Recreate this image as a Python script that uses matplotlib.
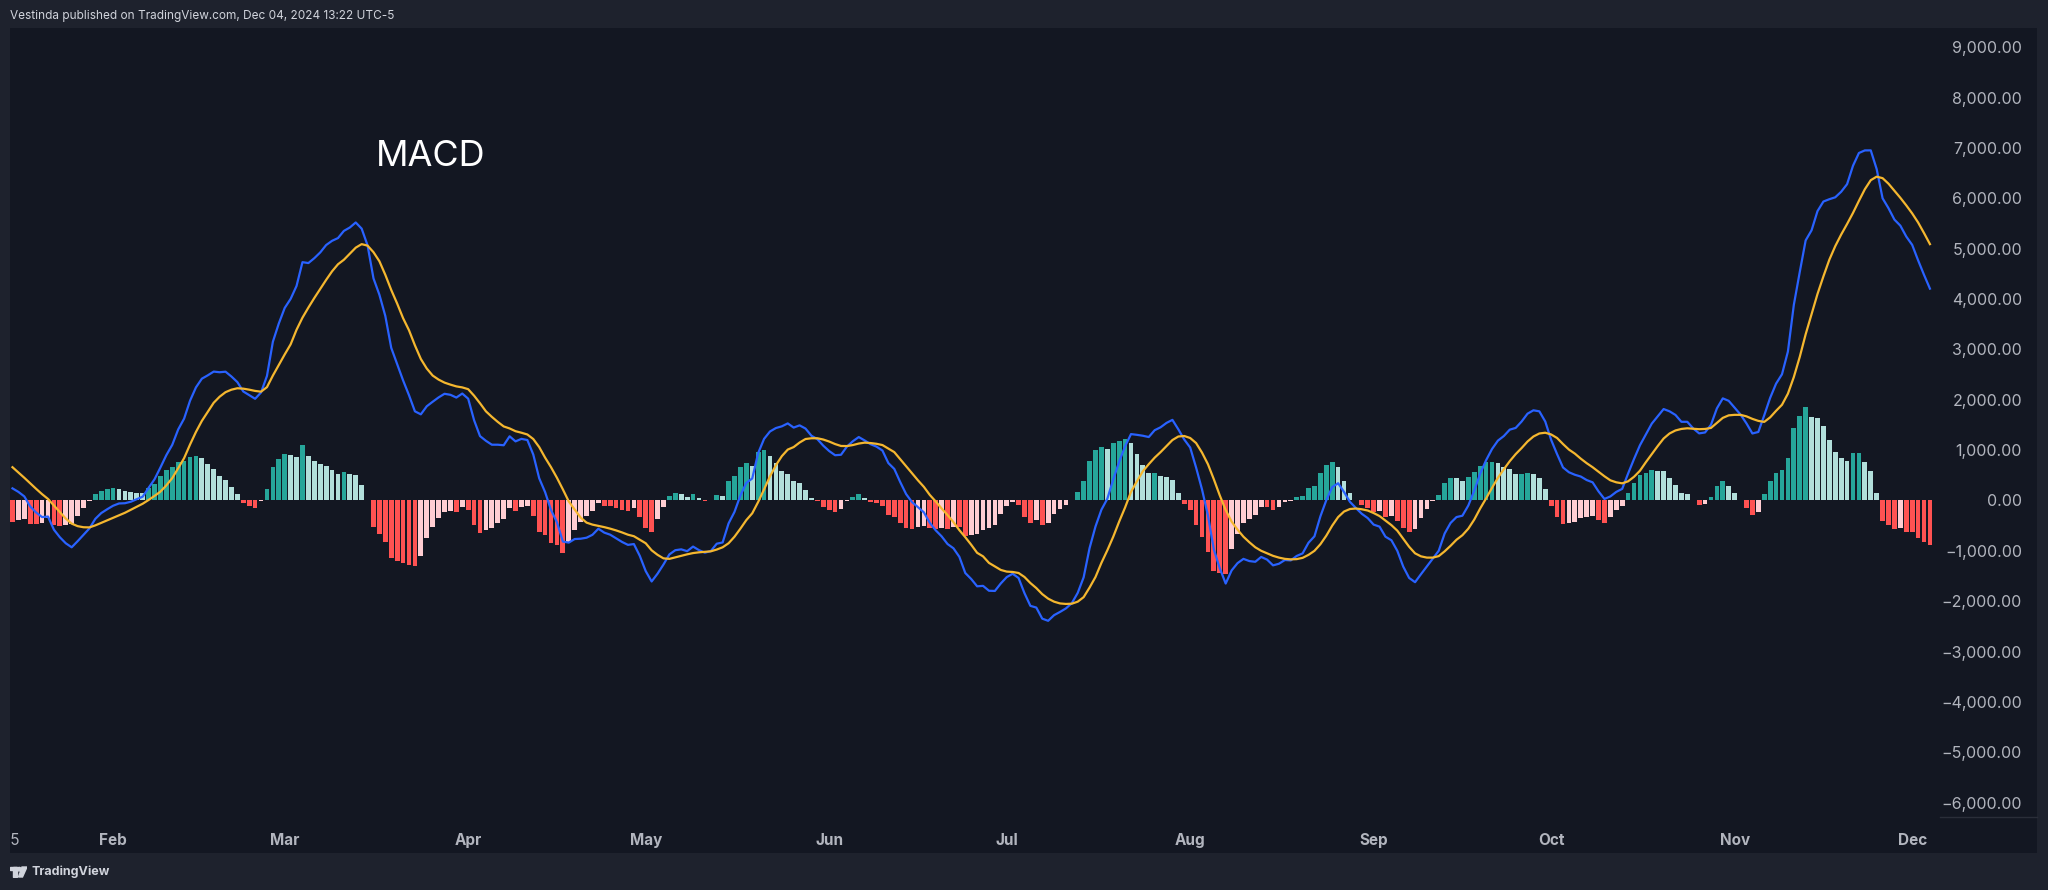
import numpy as np
import pandas as pd
import matplotlib

matplotlib.use("Agg")
import matplotlib.pyplot as plt
import matplotlib.dates as mdates
from matplotlib.patches import Rectangle, Circle, Polygon

plt.rcParams["font.family"] = ["Inter", "DejaVu Sans"]

# daily bars, first one on Jan 15 2024
START = "2024-01-15"

SIGNAL = [
    660, 555, 450, 340, 230, 125, 30, -100, -230, -360,
    -460, -510, -532, -535, -495, -445, -395, -345, -295, -245,
    -185, -125, -65, 10, 90, 175, 300, 445, 640, 840,
    1110, 1360, 1580, 1760, 1940, 2060, 2150, 2200, 2228, 2220,
    2200, 2175, 2160, 2250, 2480, 2690, 2900, 3100, 3390, 3630,
    3830, 4020, 4200, 4380, 4550, 4690, 4780, 4900, 5020, 5090,
    5060, 4930, 4750, 4480, 4180, 3910, 3620, 3380, 3080, 2810,
    2620, 2480, 2400, 2340, 2300, 2265, 2245, 2210, 2080, 1930,
    1770, 1660, 1560, 1470, 1430, 1375, 1345, 1310, 1220, 1060,
    850, 660, 450, 220, -20, -180, -340, -440, -480, -505,
    -530, -560, -595, -635, -680, -710, -780, -850, -990, -1080,
    -1150, -1160, -1130, -1100, -1070, -1045, -1030, -1020, -1010, -975,
    -930, -850, -720, -560, -390, -255, -30, 220, 480, 700,
    880, 1010, 1060, 1150, 1220, 1235, 1235, 1210, 1170, 1120,
    1082, 1080, 1100, 1130, 1148, 1140, 1125, 1100, 1030, 960,
    820, 680, 540, 400, 270, 110, -20, -160, -290, -430,
    -590, -730, -880, -1040, -1110, -1240, -1310, -1380, -1413, -1420,
    -1440, -1520, -1640, -1740, -1860, -1950, -2010, -2045, -2055, -2050,
    -2010, -1920, -1730, -1520, -1240, -990, -720, -420, -140, 170,
    380, 580, 720, 850, 960, 1080, 1200, 1270, 1280, 1240,
    1140, 950, 720, 420, 100, -190, -420, -580, -720, -830,
    -930, -1000, -1050, -1100, -1135, -1160, -1170, -1165, -1140, -1080,
    -1000, -870, -700, -500, -330, -220, -170, -160, -175, -200,
    -250, -310, -400, -490, -600, -760, -920, -1050, -1110, -1135,
    -1135, -1105, -1010, -900, -780, -690, -560, -380, -160, 40,
    250, 450, 620, 780, 920, 1040, 1170, 1270, 1330, 1345,
    1310, 1240, 1120, 1010, 930, 830, 740, 660, 570, 480,
    400, 360, 340, 380, 470, 590, 760, 920, 1080, 1230,
    1330, 1390, 1420, 1433, 1425, 1415, 1420, 1440, 1540, 1640,
    1690, 1700, 1700, 1670, 1620, 1580, 1560, 1650, 1780, 1900,
    2120, 2450, 2850, 3300, 3700, 4100, 4450, 4780, 5050, 5280,
    5490, 5710, 5950, 6180, 6360, 6430, 6400, 6290, 6150, 6010,
    5860, 5700, 5520, 5310, 5090,
]

HIST = [
    -420, -385, -370, -460, -470, -455, -350, -480, -500, -490,
    -470, -300, -150, -20, 130, 195, 220, 240, 235, 190,
    160, 150, 140, 240, 330, 480, 600, 660, 770, 785,
    870, 885, 838, 725, 619, 486, 407, 261, 122, -56,
    -109, -156, -15, 222, 672, 824, 923, 903, 870, 1102,
    884, 791, 725, 692, 606, 520, 573, 520, 500, 308,
    5, -520, -665, -817, -1150, -1200, -1235, -1290, -1310, -1100,
    -750, -520, -354, -222, -202, -222, -122, -189, -487, -652,
    -586, -553, -453, -374, -156, -202, -122, -110, -308, -619,
    -685, -850, -884, -1036, -817, -586, -420, -300, -202, -56,
    -109, -120, -156, -189, -202, -156, -321, -553, -619, -374,
    -122, 89, 142, 129, 63, 129, 43, -17, 5, 116,
    96, 394, 493, 659, 738, 692, 970, 1003, 890, 738,
    592, 520, 387, 341, 208, 50, -17, -122, -189, -222,
    -175, -10, 76, 129, 43, -23, -56, -109, -288, -334,
    -453, -553, -573, -533, -506, -553, -573, -553, -575, -520,
    -530, -711, -680, -665, -586, -553, -487, -268, -109, -36,
    -100, -321, -453, -387, -487, -440, -268, -169, -89, 10,
    175, 394, 784, 1003, 1056, 1023, 1135, 1188, 1215, 1148,
    923, 705, 539, 545, 493, 460, 400, 142, -70, -189,
    -487, -731, -1016, -1394, -1446, -1460, -970, -665, -440, -374,
    -288, -122, -125, -189, -122, -23, -20, 63, 89, 241,
    288, 553, 705, 765, 672, 387, 142, 10, -90, -150,
    -230, -210, -320, -300, -400, -553, -619, -573, -354, -175,
    -20, 106, 354, 453, 450, 387, 460, 573, 692, 758,
    771, 738, 659, 626, 520, 527, 553, 520, 440, 222,
    -109, -321, -465, -450, -420, -355, -335, -300, -390, -450,
    -320, -190, -110, 155, 354, 506, 553, 606, 592, 585,
    440, 308, 142, 129, 5, -83, -70, 63, 288, 387,
    288, 142, 5, -140, -290, -220, 130, 387, 539, 606,
    837, 1433, 1685, 1864, 1665, 1645, 1486, 1202, 970, 850,
    791, 937, 950, 771, 592, 150, -400, -487, -573, -553,
    -619, -625, -751, -830, -884,
]

Y_TICKS = list(range(-6000, 9001, 1000))

TIME_TICKS = [
    "2024-01-15", "2024-02-01", "2024-03-01", "2024-04-01", "2024-05-01",
    "2024-06-01", "2024-07-01", "2024-08-01", "2024-09-01", "2024-10-01",
    "2024-11-01", "2024-12-01",
]
TIME_LABELS = ["15", "Feb", "Mar", "Apr", "May", "Jun", "Jul", "Aug",
               "Sep", "Oct", "Nov", "Dec"]

HEADER = "Vestinda published on TradingView.com, Dec 04, 2024 13:22 UTC-5"

FRAME = "#1e222d"
PANE = "#131722"
TEXT = "#b2b5be"
BLUE = "#2962ff"
YELLOW = "#f5b72f"
TEAL = "#26a69a"
TEAL_LIGHT = "#b2dfdb"
RED = "#ff5252"
RED_LIGHT = "#ffcdd2"

W, H = 2048, 890


def px_box(x0, y0, x1, y1):
    """Figure-fraction rect from top-left pixel coords."""
    return [x0 / W, 1 - y1 / H, (x1 - x0) / W, (y1 - y0) / H]


def bar_colors(hist):
    """TradingView colouring: sign plus rising/falling vs previous bar."""
    out = []
    prev = None
    for h in hist:
        rising = prev is not None and h > prev
        if h >= 0:
            out.append(TEAL if rising else TEAL_LIGHT)
        else:
            out.append(RED_LIGHT if rising else RED)
        prev = h
    return out


dates = pd.date_range(START, periods=len(HIST), freq="D")
x = mdates.date2num(dates)
hist = np.array(HIST, dtype=float)
signal = np.array(SIGNAL, dtype=float)
macd = signal + hist

fig = plt.figure(figsize=(W / 100, H / 100), dpi=100, facecolor=FRAME)

pane = fig.add_axes(px_box(10, 28, 2037, 853))
pane.set_facecolor(PANE)
pane.set_xticks([])
pane.set_yticks([])
for s in pane.spines.values():
    s.set_visible(False)

ax = fig.add_axes(px_box(10, 28, 1940, 817))
ax.set_facecolor("none")
ax.bar(x, hist, width=0.8, color=bar_colors(HIST), linewidth=0, zorder=2)
ax.plot(x, macd, color=BLUE, lw=1.6, zorder=3, solid_joinstyle="round")
ax.plot(x, signal, color=YELLOW, lw=1.6, zorder=4, solid_joinstyle="round")

xlim = (x[0] - 0.42, x[0] + 325.7)
ax.set_xlim(*xlim)
ax.set_ylim(-6286, 9382)
for s in ax.spines.values():
    s.set_visible(False)
ax.set_xticks([])
ax.yaxis.tick_right()
ax.set_yticks(Y_TICKS)
ax.set_yticklabels([f"{v:,.2f}".replace("-", "\u2212") for v in Y_TICKS])
ax.tick_params(axis="y", length=0, pad=59, labelsize=11.5, labelcolor=TEXT)
for lab in ax.get_yticklabels():
    lab.set_ha("right")

ax.text(376, H - 157, "MACD", transform=None, fontsize=26, color="white",
        ha="left", va="center")

# time scale
ax_t = fig.add_axes(px_box(10, 817, 1940, 853))
ax_t.set_xlim(*xlim)
ax_t.set_ylim(0, 1)
ax_t.axis("off")
for d, lab in zip(TIME_TICKS, TIME_LABELS):
    ax_t.text(mdates.date2num(pd.Timestamp(d)), 0.36, lab, ha="center",
              va="center", fontsize=11, color=TEXT,
              fontweight="normal" if lab.isdigit() else "bold", clip_on=True)

fig.add_artist(plt.Line2D([1940 / W, 2037 / W], [1 - 817 / H] * 2,
                          color="#2a2e39", lw=1))

fig.text(10 / W, 1 - 15.5 / H, HEADER, fontsize=8.5, color="#d1d4dc",
         ha="left", va="center")

# footer logo + name
logo = fig.add_axes(px_box(10, 866, 27, 878))
logo.set_xlim(0, 17)
logo.set_ylim(12, 0)
logo.axis("off")
logo.add_patch(Rectangle((0, 1), 7, 3, color="#d1d4dc"))
logo.add_patch(Rectangle((3, 1), 4, 10, color="#d1d4dc"))
logo.add_patch(Circle((9.3, 3.2), 1.8, color="#d1d4dc"))
logo.add_patch(Polygon([(12, 1), (17, 1), (12.5, 11), (8.5, 11)],
                       color="#d1d4dc"))
fig.text(31 / W, 1 - 872 / H, "TradingView", fontsize=9, color="#d1d4dc",
         fontweight="bold", ha="left", va="center")

fig.savefig("out.png", dpi=100, facecolor=FRAME)
